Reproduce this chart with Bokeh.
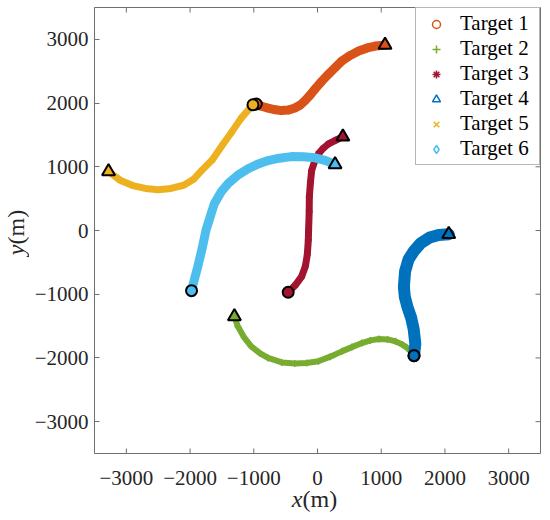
import math
from bokeh.plotting import figure
from bokeh.layouts import row, column
from bokeh.models import Range1d, Legend, LegendItem, Label, FixedTicker
from bokeh.embed import file_html
from bokeh.resources import INLINE

# ---------------- data ----------------
target_names = ["Target 1", "Target 2", "Target 3", "Target 4", "Target 5", "Target 6"]
target_colors = ["#D95319", "#77AC30", "#A2142F", "#0072BD", "#EDB120", "#4DBEEE"]
target_markers = ["circle", "cross", "asterisk", "triangle", "x", "diamond"]

# each path listed from its circle end to its triangle end
t1_x = [-960, -880, -776, -660, -566, -460, -356, -270, -198, -120, -40, 60, 172, 280, 382, 510, 646, 780, 908, 1000, 1060]
t1_y = [1985, 1950, 1922, 1895, 1882, 1890, 1922, 1970, 2036, 2120, 2219, 2335, 2453, 2560, 2661, 2745, 2817, 2865, 2895, 2905, 2911]

t2_x = [1515, 1480, 1409, 1330, 1224, 1100, 962, 830, 698, 540, 382, 200, 14, -170, -356, -560, -776, -900, -1040, -1150, -1250, -1304]
t2_y = [-1964, -1910, -1844, -1790, -1740, -1710, -1703, -1725, -1766, -1830, -1897, -1980, -2053, -2080, -2089, -2070, -2000, -1930, -1819, -1680, -1506, -1350]

t3_x = [-460, -350, -250, -190, -160, -144, -140, -130, -128, -110, -92, -40, 14, 90, 172, 290, 398]
t3_y = [-969, -860, -725, -560, -380, -150, 5, 300, 525, 760, 942, 1100, 1203, 1290, 1359, 1420, 1473]

t4_x = [1515, 1535, 1510, 1470, 1410, 1370, 1356, 1375, 1430, 1515, 1620, 1760, 1900, 2060]
t4_y = [-1964, -1780, -1550, -1370, -1194, -1040, -881, -640, -450, -320, -200, -110, -70, -58]

t5_x = [-1013, -1080, -1200, -1350, -1500, -1650, -1820, -1950, -2100, -2300, -2500, -2700, -2900, -3100, -3280]
t5_y = [1973, 1900, 1760, 1540, 1330, 1110, 940, 800, 710, 660, 640, 660, 705, 790, 926]

t6_x = [-1977, -1930, -1880, -1810, -1750, -1680, -1620, -1510, -1400, -1250, -1090, -930, -776, -600, -408, -220, -40, 120, 276]
t6_y = [-944, -760, -570, -280, 5, 230, 420, 610, 740, 870, 969, 1045, 1098, 1135, 1160, 1158, 1141, 1100, 1036]

tick_values = [-3000, -2000, -1000, 0, 1000, 2000, 3000]
tick_labels = ["\u22123000", "\u22122000", "\u22121000", "0", "1000", "2000", "3000"]

x_label_var, y_label_var, label_unit = "x", "y", "(m)"

# ---------------- styling ----------------
XR = (-3500, 3500)
YR = (-3500, 3500)
FONT = "Liberation Serif"
AX = "#707070"
TXT = "#262626"
TICK_FS = "21px"
LBL = "24px"

YLAB_W = 29                      # strip holding the y title
BL, BR, BT, BB = 65, 2, 7, 1
FRAME = 446
MAIN_W = BL + FRAME + BR         # 513
MAIN_H = BT + FRAME + BB         # 454
TOTAL_H = 512
XAX_H = TOTAL_H - MAIN_H         # strip with x tick labels + x title
XAX_TOP = 31                     # room for the x tick labels
TITLE_H = XAX_H - XAX_TOP

xr = Range1d(*XR)
yr = Range1d(*YR)

p = figure(width=MAIN_W, height=MAIN_H, x_range=xr, y_range=yr,
           x_axis_location=None, output_backend="svg", toolbar_location=None,
           min_border_left=BL, min_border_right=BR, min_border_top=BT, min_border_bottom=BB)
p.grid.visible = False
p.outline_line_color = AX
p.outline_line_width = 1
p.background_fill_color = "white"
p.border_fill_color = "white"


def style_axis(ax):
    ax.ticker = FixedTicker(ticks=tick_values)
    ax.major_label_overrides = dict(zip(tick_values, tick_labels))
    ax.minor_tick_line_color = None
    ax.major_label_text_font = FONT
    ax.major_label_text_font_size = TICK_FS
    ax.major_label_text_color = TXT


yax = p.yaxis[0]
style_axis(yax)
yax.major_tick_in = 5
yax.major_tick_out = 0
yax.axis_line_color = AX
yax.major_tick_line_color = AX
yax.major_label_standoff = 6

# inward ticks on the top, bottom and right edges of the box
n = len(tick_values)
p.ray(x=tick_values, y=[YR[1]] * n, length=5, length_units="screen",
      angle=-math.pi / 2, line_color=AX, line_width=1)
p.ray(x=tick_values, y=[YR[0]] * n, length=5, length_units="screen",
      angle=math.pi / 2, line_color=AX, line_width=1)
p.ray(x=[XR[1]] * n, y=tick_values, length=5, length_units="screen",
      angle=math.pi, line_color=AX, line_width=1)

paths = [(t1_x, t1_y), (t2_x, t2_y), (t3_x, t3_y), (t4_x, t4_y), (t5_x, t5_y), (t6_x, t6_y)]
band_widths = [9, 6, 7, 12, 7, 9]

items = []
for i, (xs, ys) in enumerate(paths):
    c = target_colors[i]
    p.line(xs, ys, line_color=c, line_width=band_widths[i], line_cap="round", line_join="round")
    r = p.scatter(xs, ys, marker=target_markers[i], size=7, line_color=c,
                  fill_color=None, line_width=1.5)
    items.append(LegendItem(label=target_names[i], renderers=[r]))

start_x = [xs[0] for xs, _ in paths]
start_y = [ys[0] for _, ys in paths]
end_x = [xs[-1] for xs, _ in paths]
end_y = [ys[-1] for _, ys in paths]
p.scatter(start_x, start_y, marker="circle", size=11, fill_color=target_colors,
          line_color="black", line_width=2)
p.scatter(end_x, end_y, marker="triangle", size=13, fill_color=target_colors,
          line_color="black", line_width=2)

legend = Legend(items=items, location="top_right", margin=0, padding=3, spacing=0,
                glyph_width=34, glyph_height=20, label_height=20, label_width=76,
                label_standoff=7, label_text_font=FONT, label_text_font_size=TICK_FS,
                label_text_color="black", label_text_baseline="middle",
                border_line_color=AX, border_line_width=1,
                background_fill_color="white", background_fill_alpha=1)
p.add_layout(legend)

# ---- strip below: real x axis (shared range) with tick labels, and the x title ----
fx = figure(width=MAIN_W, height=XAX_H, x_range=xr, y_range=Range1d(0, TITLE_H),
            x_axis_location="above", y_axis_location=None,
            output_backend="svg", toolbar_location=None,
            min_border_left=BL, min_border_right=BR, min_border_top=XAX_TOP,
            min_border_bottom=0)
fx.grid.visible = False
fx.outline_line_color = None
fx.background_fill_color = "white"
fx.border_fill_color = "white"
xax = fx.xaxis[0]
style_axis(xax)
xax.major_tick_in = 0
xax.major_tick_out = 0
xax.major_tick_line_color = None
xax.axis_line_color = None
xax.major_label_standoff = 1

px_to_x = (XR[1] - XR[0]) / FRAME
split_x = XR[0] + 208 * px_to_x          # junction between italic x and "(m)"
mid_y = TITLE_H / 2
fx.add_layout(Label(x=split_x, y=mid_y, text=x_label_var, text_align="right",
                    text_baseline="middle", text_font=FONT, text_font_style="italic",
                    text_font_size=LBL, text_color=TXT))
fx.add_layout(Label(x=split_x, y=mid_y, text=label_unit, text_align="left",
                    text_baseline="middle", text_font=FONT, text_font_size=LBL,
                    text_color=TXT))

# ---- strip on the left: y title ----
fy = figure(width=YLAB_W, height=TOTAL_H, x_range=Range1d(0, YLAB_W),
            y_range=Range1d(0, TOTAL_H), output_backend="svg", toolbar_location=None,
            min_border=0, min_border_left=0, min_border_right=0,
            min_border_top=0, min_border_bottom=0)
fy.axis.visible = False
fy.grid.visible = False
fy.outline_line_color = None
fy.background_fill_color = "white"
fy.border_fill_color = "white"
split_y = TOTAL_H - 244
mid_x = 15.5
fy.add_layout(Label(x=mid_x, y=split_y, text=y_label_var, text_align="right",
                    text_baseline="middle", angle=math.pi / 2, text_font=FONT,
                    text_font_style="italic", text_font_size=LBL, text_color=TXT))
fy.add_layout(Label(x=mid_x, y=split_y, text=label_unit, text_align="left",
                    text_baseline="middle", angle=math.pi / 2, text_font=FONT,
                    text_font_size=LBL, text_color=TXT))

layout = row(fy, column(p, fx))
open("out.html", "w").write(file_html(layout, INLINE))
